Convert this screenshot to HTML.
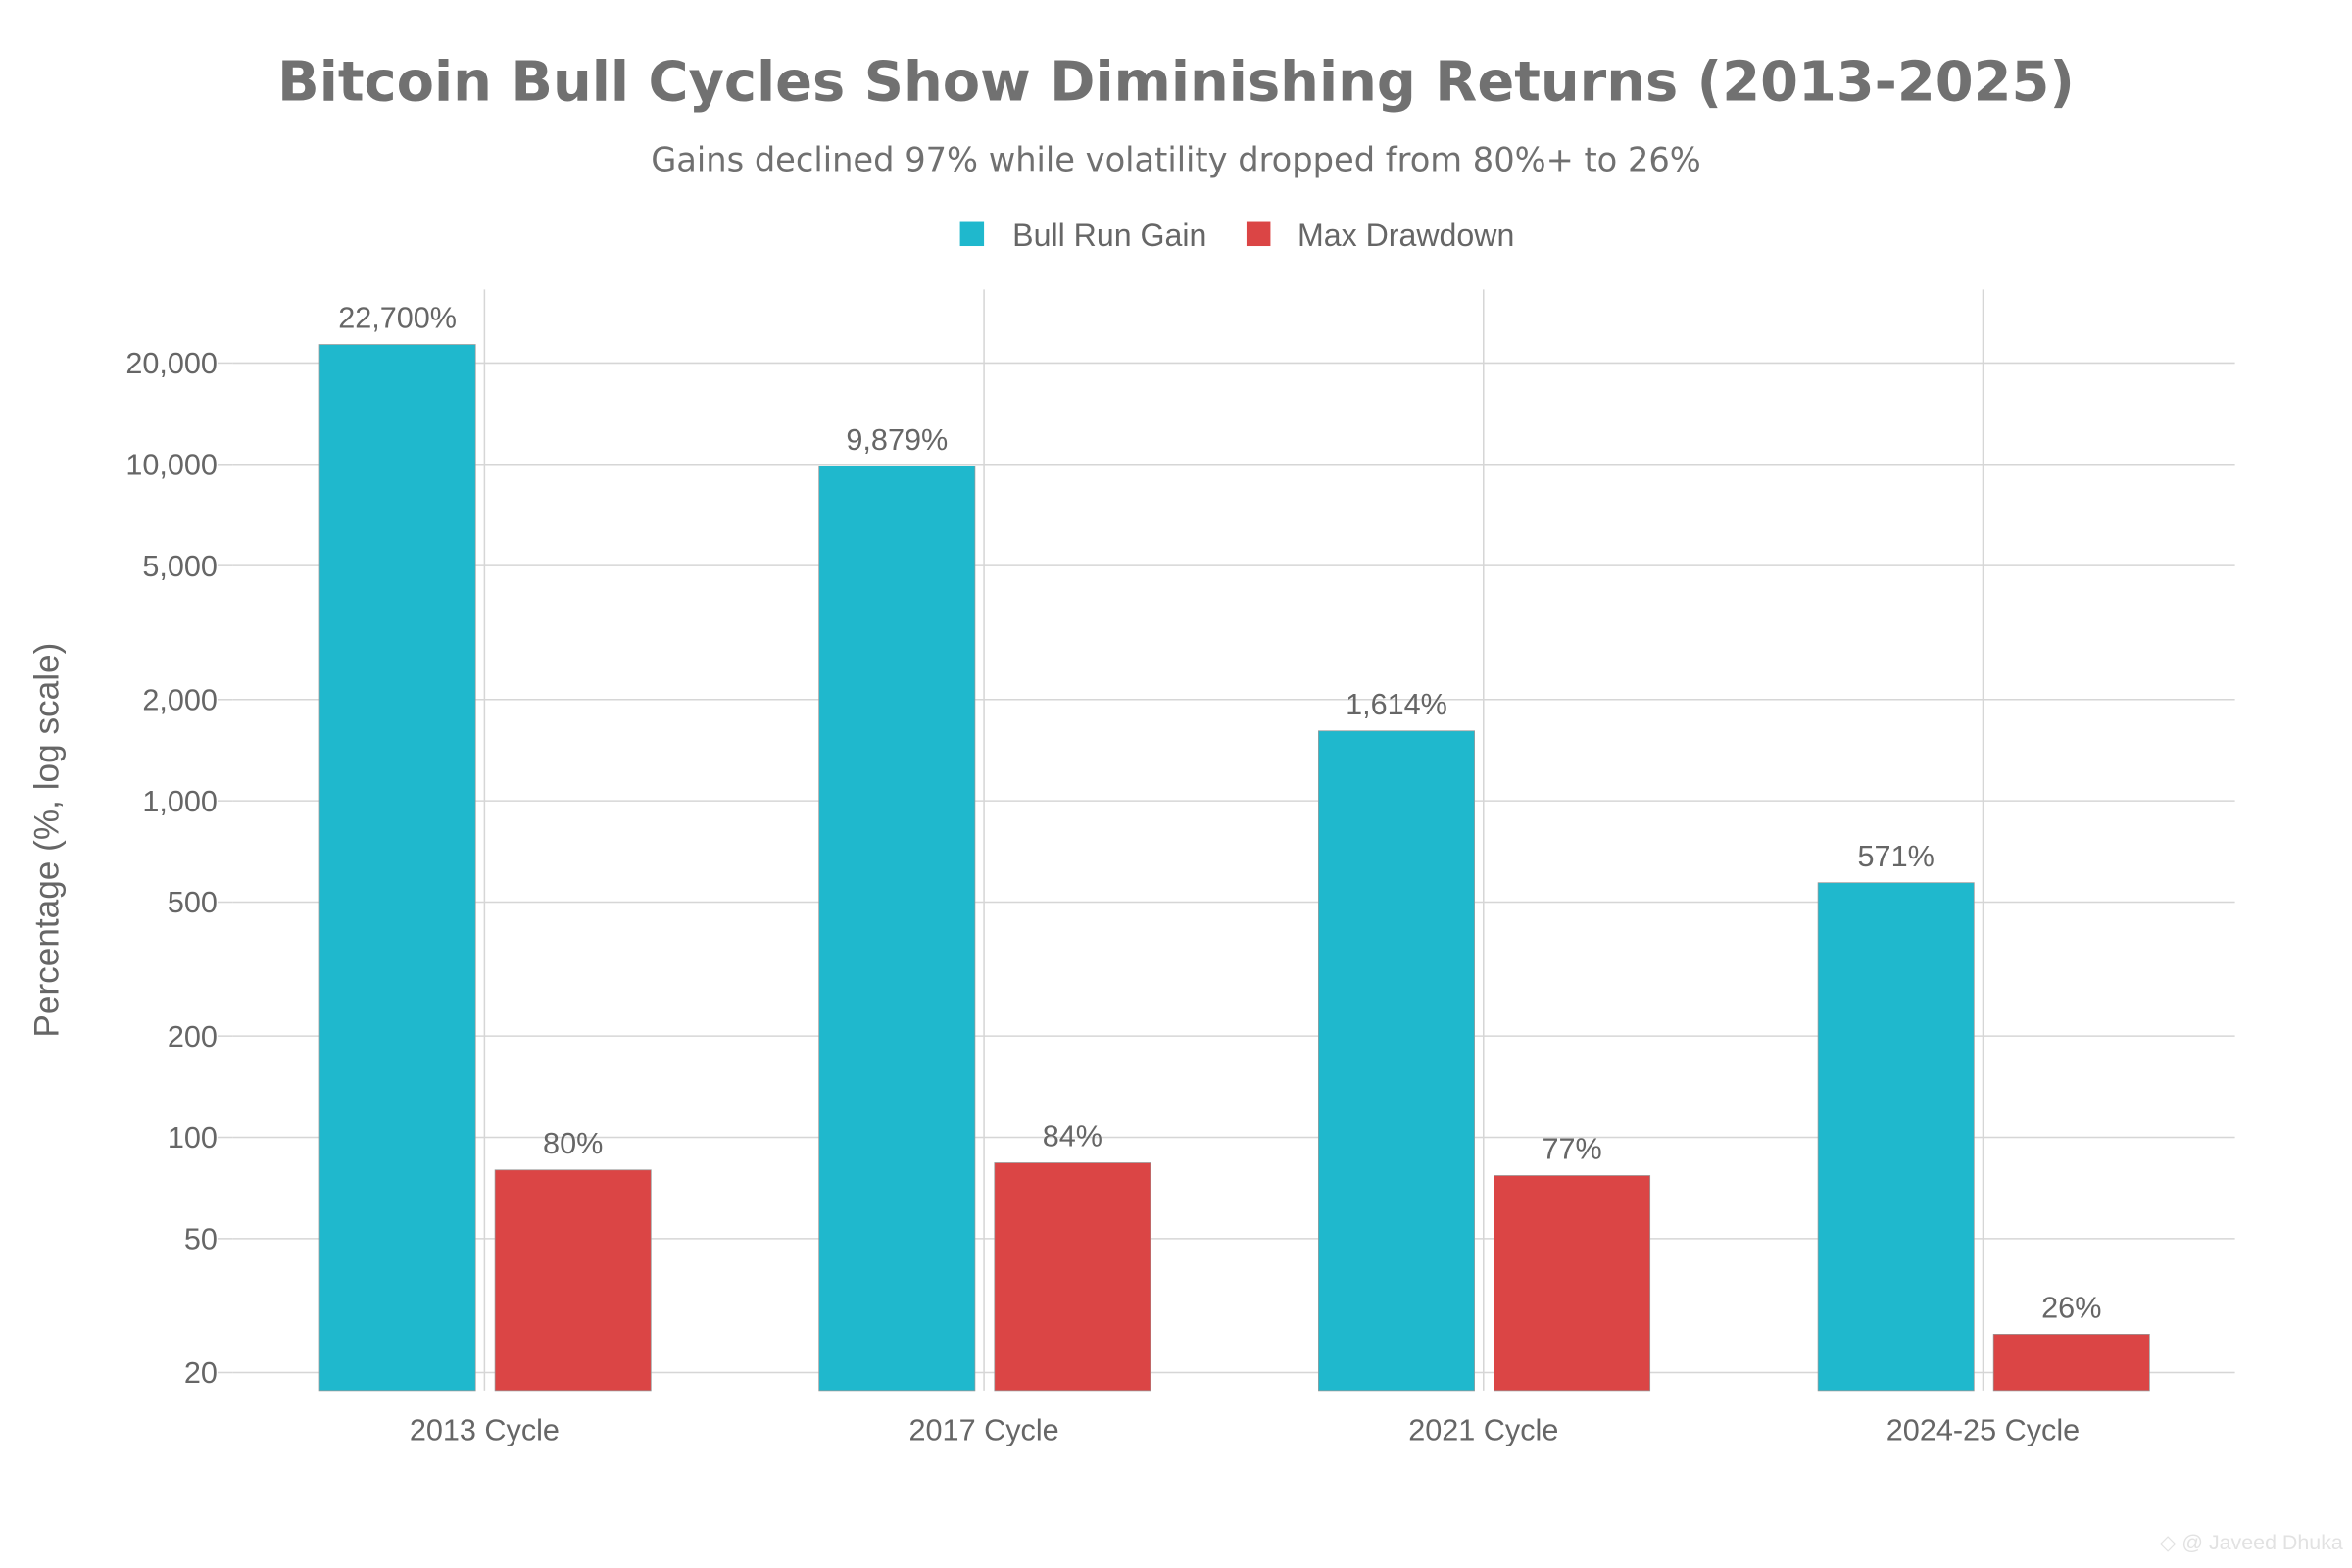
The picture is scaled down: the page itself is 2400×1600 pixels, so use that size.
<!DOCTYPE html>
<html><head><meta charset="utf-8"><style>
html,body{margin:0;padding:0;background:#fff;}
svg{display:block;}
text{font-family:"Liberation Sans","DejaVu Sans",sans-serif;fill:#666;}
</style></head><body>
<svg id="chart" width="2400" height="1600" viewBox="0 0 1568 1045.33" xmlns="http://www.w3.org/2000/svg">
<rect width="1568" height="1046" fill="#fff"/>
<text x="784" y="67" text-anchor="middle" style="font-family:'DejaVu Sans',sans-serif;font-weight:bold;font-size:36.5px;fill:#717171">Bitcoin Bull Cycles Show Diminishing Returns (2013-2025)</text>
<text x="784" y="114" text-anchor="middle" style="font-family:'DejaVu Sans',sans-serif;font-size:22px;fill:#707070">Gains declined 97% while volatility dropped from 80%+ to 26%</text>
<g>
<rect x="640" y="148" width="16" height="16" fill="#1fb8cd"/>
<text x="675" y="164" style="font-size:21px">Bull Run Gain</text>
<rect x="831" y="148" width="16" height="16" fill="#db4545"/>
<text x="865" y="164" style="font-size:21px">Max Drawdown</text>
</g>
<text transform="translate(39,560) rotate(-90)" text-anchor="middle" style="font-size:23px">Percentage (%, log scale)</text>
<g id="grid"></g><g id="bars"></g>
<text x="1562" y="1033" text-anchor="end" style="font-size:14px;fill:#e2e2e2">◇ @ Javeed Dhuka</text>
</svg>
<script>
const categories = ["2013 Cycle","2017 Cycle","2021 Cycle","2024-25 Cycle"];
const gainValues = [22700, 9879, 1614, 571];
const drawdownValues = [80, 84, 77, 26];
const gainLabels = ["22,700%","9,879%","1,614%","571%"];
const drawdownLabels = ["80%","84%","77%","26%"];
const tickValues = [20,50,100,200,500,1000,2000,5000,10000,20000];
const tickLabels = ["20","50","100","200","500","1,000","2,000","5,000","10,000","20,000"];

const NS="http://www.w3.org/2000/svg";
const plotLeft=155,plotRight=1490,plotTop=193,plotBottom=927;
const y20=915,pxPerDec=224.33;
function yScale(v){return y20-(Math.log10(v)-Math.log10(20))*pxPerDec;}
function xScale(i){return 323+i*333;}
function mk(tag,attrs,parent){const e=document.createElementNS(NS,tag);for(const k in attrs)e.setAttribute(k,attrs[k]);parent.appendChild(e);return e;}
const gridG=document.getElementById('grid'),barsG=document.getElementById('bars');
tickValues.forEach((v,i)=>{
  const y=yScale(v);
  const l=mk('line',{x1:plotLeft,x2:plotRight,y1:y,y2:y,stroke:'#d6d6d6','stroke-width':1},gridG);
  
  
  const t=mk('line',{x1:plotLeft-10,x2:plotLeft,y1:y,y2:y,stroke:'#d6d6d6','stroke-width':1},gridG);
  
  
  const tx=mk('text',{x:plotLeft-10,y:y+7,'text-anchor':'end',style:'font-size:20px'},gridG);
  tx.textContent=tickLabels[i];
  
  
});
categories.forEach((c,i)=>{
  const cx=xScale(i);
  const g=mk('line',{x1:cx,x2:cx,y1:plotTop,y2:plotBottom,stroke:'#d6d6d6','stroke-width':1},gridG);
  
  
  const xl=mk('text',{x:cx,y:960,'text-anchor':'middle',style:'font-size:20px'},gridG);
  xl.textContent=c;
  
  
  [[gainValues[i],gainLabels[i],'#1fb8cd',-110,'bar-gain'],[drawdownValues[i],drawdownLabels[i],'#db4545',7,'bar-drawdown']].forEach(([v,lab,col,off,nm])=>{
    const y=yScale(v);
    const r=mk('rect',{x:cx+off,y:y,width:104,height:plotBottom-y,fill:col,stroke:'#999','stroke-width':0.5},barsG);
    
    
    const t=mk('text',{x:cx+off+52,y:y-11,'text-anchor':'middle',style:'font-size:20px'},barsG);
    t.textContent=lab;
    
    
  });
});
</script>
</body></html>
